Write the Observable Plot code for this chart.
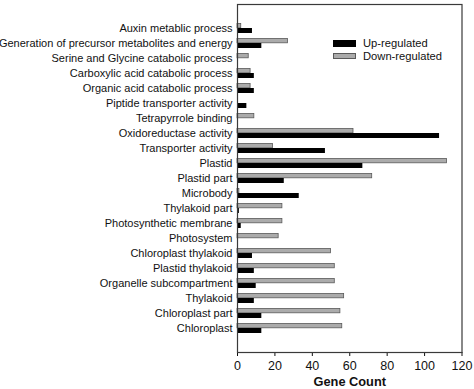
<!DOCTYPE html>
<html>
<head>
<meta charset="utf-8">
<script src="https://cdn.jsdelivr.net/npm/d3@7"></script>
<script src="https://cdn.jsdelivr.net/npm/@observablehq/plot@0.6"></script>
<style>
  html, body { margin: 0; padding: 0; background: #fff; }
  #wrap { position: relative; width: 474px; height: 389px; font-family: "Liberation Sans", Arial, sans-serif; }
  #wrap svg { display: block; }
  .legend { position: absolute; left: 333px; top: 37px; font-size: 11.2px; color: #111; }
  .legend .row { display: flex; align-items: center; height: 12.5px; }
  .legend .sw { width: 23px; height: 6px; margin-right: 7px; box-sizing: border-box; }
</style>
</head>
<body>
<div id="wrap"></div>
<script>
const categories = [
  "Auxin metablic process",
  "Generation of precursor metabolites and energy",
  "Serine and Glycine catabolic process",
  "Carboxylic acid catabolic process",
  "Organic acid catabolic process",
  "Piptide transporter activity",
  "Tetrapyrrole binding",
  "Oxidoreductase activity",
  "Transporter activity",
  "Plastid",
  "Plastid part",
  "Microbody",
  "Thylakoid part",
  "Photosynthetic membrane",
  "Photosystem",
  "Chloroplast thylakoid",
  "Plastid thylakoid",
  "Organelle subcompartment",
  "Thylakoid",
  "Chloroplast part",
  "Chloroplast"
];
const upRegulated   = [8, 13, 0, 9, 9, 5, 0, 108, 47, 67, 25, 33, 1, 2, 0, 8, 9, 10, 9, 13, 13];
const downRegulated = [2, 27, 6, 7, 7, 0, 9, 62, 19, 112, 72, 1, 24, 24, 22, 50, 52, 52, 57, 55, 56];
const seriesNames = ["Up-regulated", "Down-regulated"];
const xTicks = [0, 20, 40, 60, 80, 100, 120];

const upData = categories.map((c, i) => ({category: c, value: upRegulated[i]}));
const downData = categories.map((c, i) => ({category: c, value: downRegulated[i]}));

const GRAY = "#ababab";
const GRAY_STROKE = "#5a5a5a";

const chart = Plot.plot({
  width: 474,
  height: 389,
  marginLeft: 237,
  marginRight: 12.5,
  marginTop: 4,
  marginBottom: 37,
  style: {fontFamily: "'Liberation Sans', Arial, sans-serif", fontSize: "11px", color: "#111", background: "#fff"},
  x: {domain: [0, 120], ticks: xTicks, tickSize: 4, tickPadding: 5, label: "Gene Count", labelAnchor: "center", labelOffset: 33},
  y: {domain: categories, paddingInner: 0.34, paddingOuter: 1.19, tickSize: 0, tickPadding: 5, label: null},
  marks: [
    Plot.barX(downData, {x: "value", y: "category", fill: GRAY, stroke: GRAY_STROKE, strokeWidth: 0.8, insetBottom: 5.2, insetTop: 0.4}),
    Plot.barX(upData, {x: "value", y: "category", fill: "#000", insetTop: 5}),
    Plot.frame({stroke: "#3a3a3a", strokeWidth: 1.2})
  ]
});

const wrap = document.getElementById("wrap");
wrap.appendChild(chart);

// style axis text
chart.querySelectorAll('[aria-label="x-axis tick label"] text').forEach(t => t.setAttribute("font-size", "12.5px"));
const xl = chart.querySelector('[aria-label="x-axis label"]');
if (xl) { xl.setAttribute("font-weight", "bold"); xl.setAttribute("font-size", "12.8px"); xl.querySelectorAll("text").forEach(t => { t.setAttribute("font-weight","bold"); t.textContent = "Gene Count"; }); }

// legend
const legend = document.createElement("div");
legend.className = "legend";
seriesNames.forEach((name, i) => {
  const row = document.createElement("div");
  row.className = "row";
  const sw = document.createElement("div");
  sw.className = "sw";
  if (i === 0) { sw.style.background = "#000"; sw.style.height = "7px"; }
  else { sw.style.background = GRAY; sw.style.border = "1px solid " + GRAY_STROKE; }
  const lab = document.createElement("span");
  lab.textContent = name;
  row.appendChild(sw); row.appendChild(lab);
  legend.appendChild(row);
});
wrap.appendChild(legend);
</script>
</body>
</html>
